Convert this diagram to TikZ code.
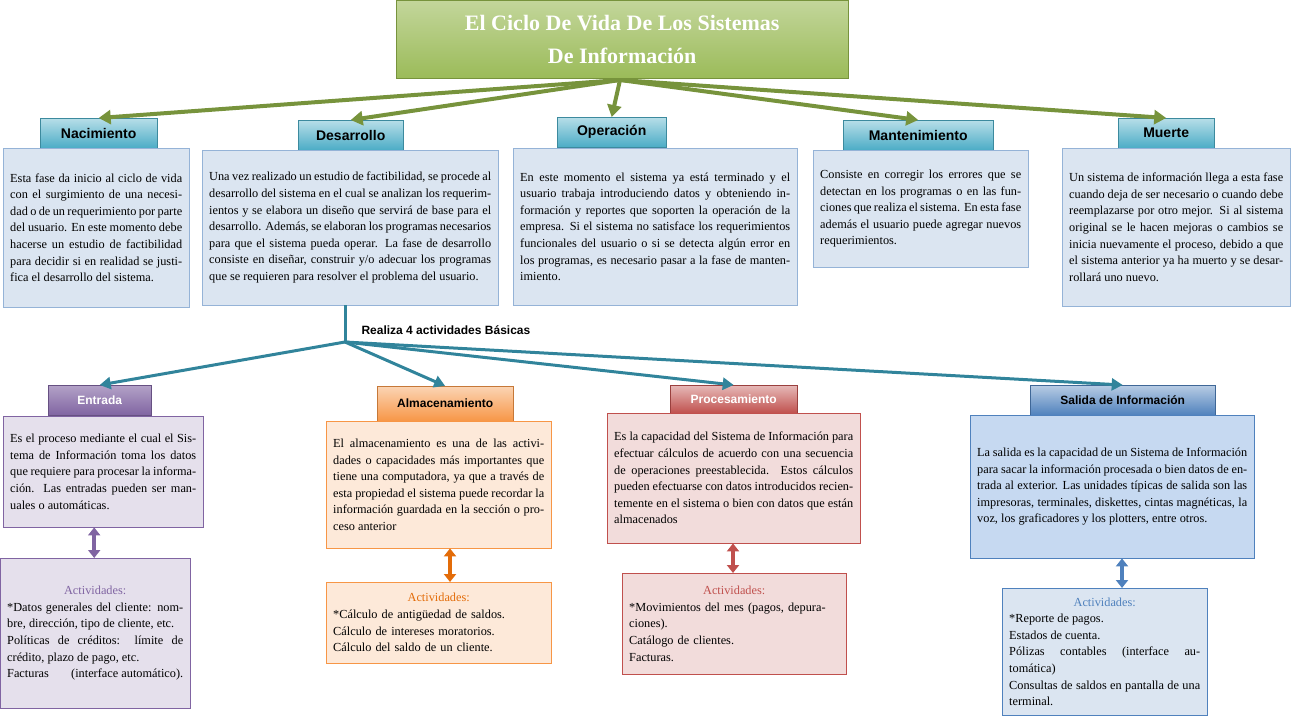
\documentclass[tikz,border=0pt]{standalone}
\usepackage{fontspec}
\setmainfont{Liberation Serif}
\setsansfont{Liberation Sans}
\usetikzlibrary{arrows.meta}
\definecolor{gA}{HTML}{9BBB59}\definecolor{gB}{HTML}{C3D69B}\definecolor{gL}{HTML}{77933C}
\definecolor{bH}{HTML}{4BACC6}\definecolor{bHl}{HTML}{B7DEE8}\definecolor{bF}{HTML}{DBE5F1}\definecolor{bD}{HTML}{95B3D7}
\definecolor{bL}{HTML}{31849B}
\definecolor{pH}{HTML}{8064A2}\definecolor{pHl}{HTML}{B3A2C7}\definecolor{pF}{HTML}{E5E0EC}
\definecolor{oH}{HTML}{F79646}\definecolor{oHl}{HTML}{FBD4B4}\definecolor{oF}{HTML}{FDE9D9}\definecolor{oD}{HTML}{E36C09}
\definecolor{rH}{HTML}{C0504D}\definecolor{rHl}{HTML}{E6B9B8}\definecolor{rF}{HTML}{F2DCDB}
\definecolor{sH}{HTML}{4F81BD}\definecolor{sHl}{HTML}{B8CCE4}\definecolor{sF}{HTML}{C6D9F1}\definecolor{sF2}{HTML}{DBE5F1}
\tikzset{
 hdr/.style={anchor=north west,inner sep=0pt,font=\sffamily\bfseries\fontsize{14}{16}\selectfont,draw=#1!80!black,top color=#1l,bottom color=#1},
 bx/.style={anchor=north west,inner xsep=7pt,inner ysep=4pt,align=justify,font=\fontsize{12.3}{16.6}\selectfont},
 ga/.style={draw=gL,line width=4pt,-{Triangle[length=12pt,width=14pt]}},
 ba/.style={draw=bL,line width=3pt,-{Triangle[length=11pt,width=12pt]}},
 da/.style={line width=4pt,{Triangle[length=8pt,width=12pt]}-{Triangle[length=8pt,width=12pt]}}
}
\begin{document}
\begin{tikzpicture}[x=1pt,y=-1pt]
\useasboundingbox (0,0) rectangle (1295,715);
% title
\node[anchor=north west,minimum width=452pt,minimum height=78pt,top color=gB,bottom color=gA,draw=gL,align=center,text=white,font=\bfseries\fontsize{22}{33}\selectfont] (t) at (396,0) {El Ciclo De Vida De Los Sistemas\\De Información};
\coordinate (th) at (620,80);
% headers top row
\node[hdr=bH,minimum width=117pt,minimum height=30pt] (h1) at (40,118) {Nacimiento};
\node[hdr=bH,minimum width=105pt,minimum height=30pt] (h2) at (298,120) {Desarrollo};
\node[hdr=bH,minimum width=109pt,minimum height=30pt] (h3) at (557,117) {Operación};
\node[hdr=bH,minimum width=150pt,minimum height=30pt] (h4) at (843,120) {Mantenimiento};
\node[hdr=bH,minimum width=96pt,minimum height=30pt] (h5) at (1118,118) {Muerte};
\node[bx,fill=bF,draw=bD,text width=172pt,minimum height=159pt] (b1) at (3,148) {Esta fase da inicio al ciclo de vida con el surgimiento de una necesidad o de un requerimiento por parte del usuario. En este momento debe hacerse un estudio de factibilidad para decidir si en realidad se justifica el desarrollo del sistema.};
\node[bx,fill=bF,draw=bD,text width=282pt,minimum height=155pt] (b2) at (202,150) {Una vez realizado un estudio de factibilidad, se procede al desarrollo del sistema en el cual se analizan los requerimientos y se elabora un diseño que servirá de base para el desarrollo. Además, se elaboran los programas necesarios para que el sistema pueda operar. La fase de desarrollo consiste en diseñar, construir y/o adecuar los programas que se requieren para resolver el problema del usuario.};
\node[bx,fill=bF,draw=bD,text width=270pt,minimum height=157pt] (b3) at (513,148) {En este momento el sistema ya está terminado y el usuario trabaja introduciendo datos y obteniendo información y reportes que soporten la operación de la empresa. Si el sistema no satisface los requerimientos funcionales del usuario o si se detecta algún error en los programas, es necesario pasar a la fase de mantenimiento.};
\node[bx,fill=bF,draw=bD,text width=201pt,minimum height=117pt,anchor=north west] (b4) at (813,150) {Consiste en corregir los errores que se detectan en los programas o en las funciones que realiza el sistema. En esta fase además el usuario puede agregar nuevos requerimientos.\par\vspace{14pt}};
\node[bx,fill=bF,draw=bD,text width=214pt,minimum height=158pt] (b5) at (1062,148) {Un sistema de información llega a esta fase cuando deja de ser necesario o cuando debe reemplazarse por otro mejor. Si al sistema original se le hacen mejoras o cambios se inicia nuevamente el proceso, debido a que el sistema anterior ya ha muerto y se desarrollará uno nuevo.};
\foreach \h in {h1,h2,h3,h4,h5} \draw[ga] (th) -- (\h.north);
% hub
\coordinate (hub) at (345,342);
\node[anchor=west,font=\sffamily\bfseries\fontsize{12}{14}\selectfont] (lbl) at (358,330) {Realiza 4 actividades Básicas};
\draw[draw=bL,line width=3pt] (b2.south -| hub) -- (hub);
% second row headers
\node[hdr=pH,minimum width=103pt,minimum height=30pt,text=white,font=\sffamily\bfseries\fontsize{12}{14}\selectfont] (e1) at (48,385) {Entrada};
\node[hdr=oH,minimum width=136pt,minimum height=35pt,font=\sffamily\bfseries\fontsize{12}{14}\selectfont] (e2) at (377,386) {Almacenamiento};
\node[hdr=rH,minimum width=127pt,minimum height=28pt,text=white,font=\sffamily\bfseries\fontsize{12}{14}\selectfont] (e3) at (670,385) {Procesamiento};
\node[hdr=sH,minimum width=185pt,minimum height=30pt,font=\sffamily\bfseries\fontsize{12}{14}\selectfont] (e4) at (1030,385) {Salida de Información};
\foreach \h in {e1,e2,e3,e4} \draw[ba] (hub) -- (\h.north);
\node[bx,fill=pF,draw=pH,text width=186pt,minimum height=111pt] (c1) at (3,416) {Es el proceso mediante el cual el Sistema de Información toma los datos que requiere para procesar la información. Las entradas pueden ser manuales o automáticas.};
\node[bx,fill=oF,draw=oH,text width=211pt,minimum height=127pt] (c2) at (326,421) {El almacenamiento es una de las actividades o capacidades más importantes que tiene una computadora, ya que a través de esta propiedad el sistema puede recordar la información guardada en la sección o proceso anterior};
\node[bx,fill=rF,draw=rH,text width=239pt,minimum height=130pt] (c3) at (607,413) {Es la capacidad del Sistema de Información para efectuar cálculos de acuerdo con una secuencia de operaciones preestablecida. Estos cálculos pueden efectuarse con datos introducidos recientemente en el sistema o bien con datos que están almacenados};
\node[bx,fill=sF,draw=sH,text width=270pt,minimum height=143pt] (c4) at (970,415) {La salida es la capacidad de un Sistema de Información para sacar la información procesada o bien datos de entrada al exterior. Las unidades típicas de salida son las impresoras, terminales, diskettes, cintas magnéticas, la voz, los graficadores y los plotters, entre otros.};
% activities
\node[bx,fill=pF,draw=pH,text width=176pt,minimum height=150pt] (a1) at (0,558) {{\centering\color{pH}Actividades:\par}
*Datos generales del cliente: nombre, dirección, tipo de cliente, etc.\\*Políticas de créditos: límite de crédito, plazo de pago, etc.\\*Facturas \hfill (interface automático).};
\node[bx,fill=oF,draw=oH,align=left,text width=211pt,minimum height=81pt] (a2) at (326,582) {{\centering\color{oD}Actividades:\par}*Cálculo de antigüedad de saldos.\\*Cálculo de intereses moratorios.\\*Cálculo del saldo de un cliente.};
\node[bx,fill=rF,draw=rH,align=left,text width=210pt,minimum height=101pt] (a3) at (622,573) {{\centering\color{rH}Actividades:\par}*Movimientos del mes (pagos, depuraciones).\\*Catálogo de clientes.\\*Facturas.};
\node[bx,fill=sF2,draw=sH,text width=191pt,minimum height=127pt] (a4) at (1002,588) {{\centering\color{sH}Actividades:\par}
*Reporte de pagos.\\*Estados de cuenta.\\*Pólizas contables (interface automática)\\*Consultas de saldos en pantalla de una terminal.};
\draw[da,draw=pH,fill=pH] ([xshift=-9pt]c1.south) -- ([xshift=-9pt]c1.south |- a1.north);
\draw[da,draw=oD,fill=oD] (c2.south -| 450,0) -- (a2.north -| 450,0);
\draw[da,draw=rH,fill=rH] (c3.south -| 733,0) -- (a3.north -| 733,0);
\draw[da,draw=sH,fill=sH] (c4.south -| 1122,0) -- (a4.north -| 1122,0);
\end{tikzpicture}
\end{document}
